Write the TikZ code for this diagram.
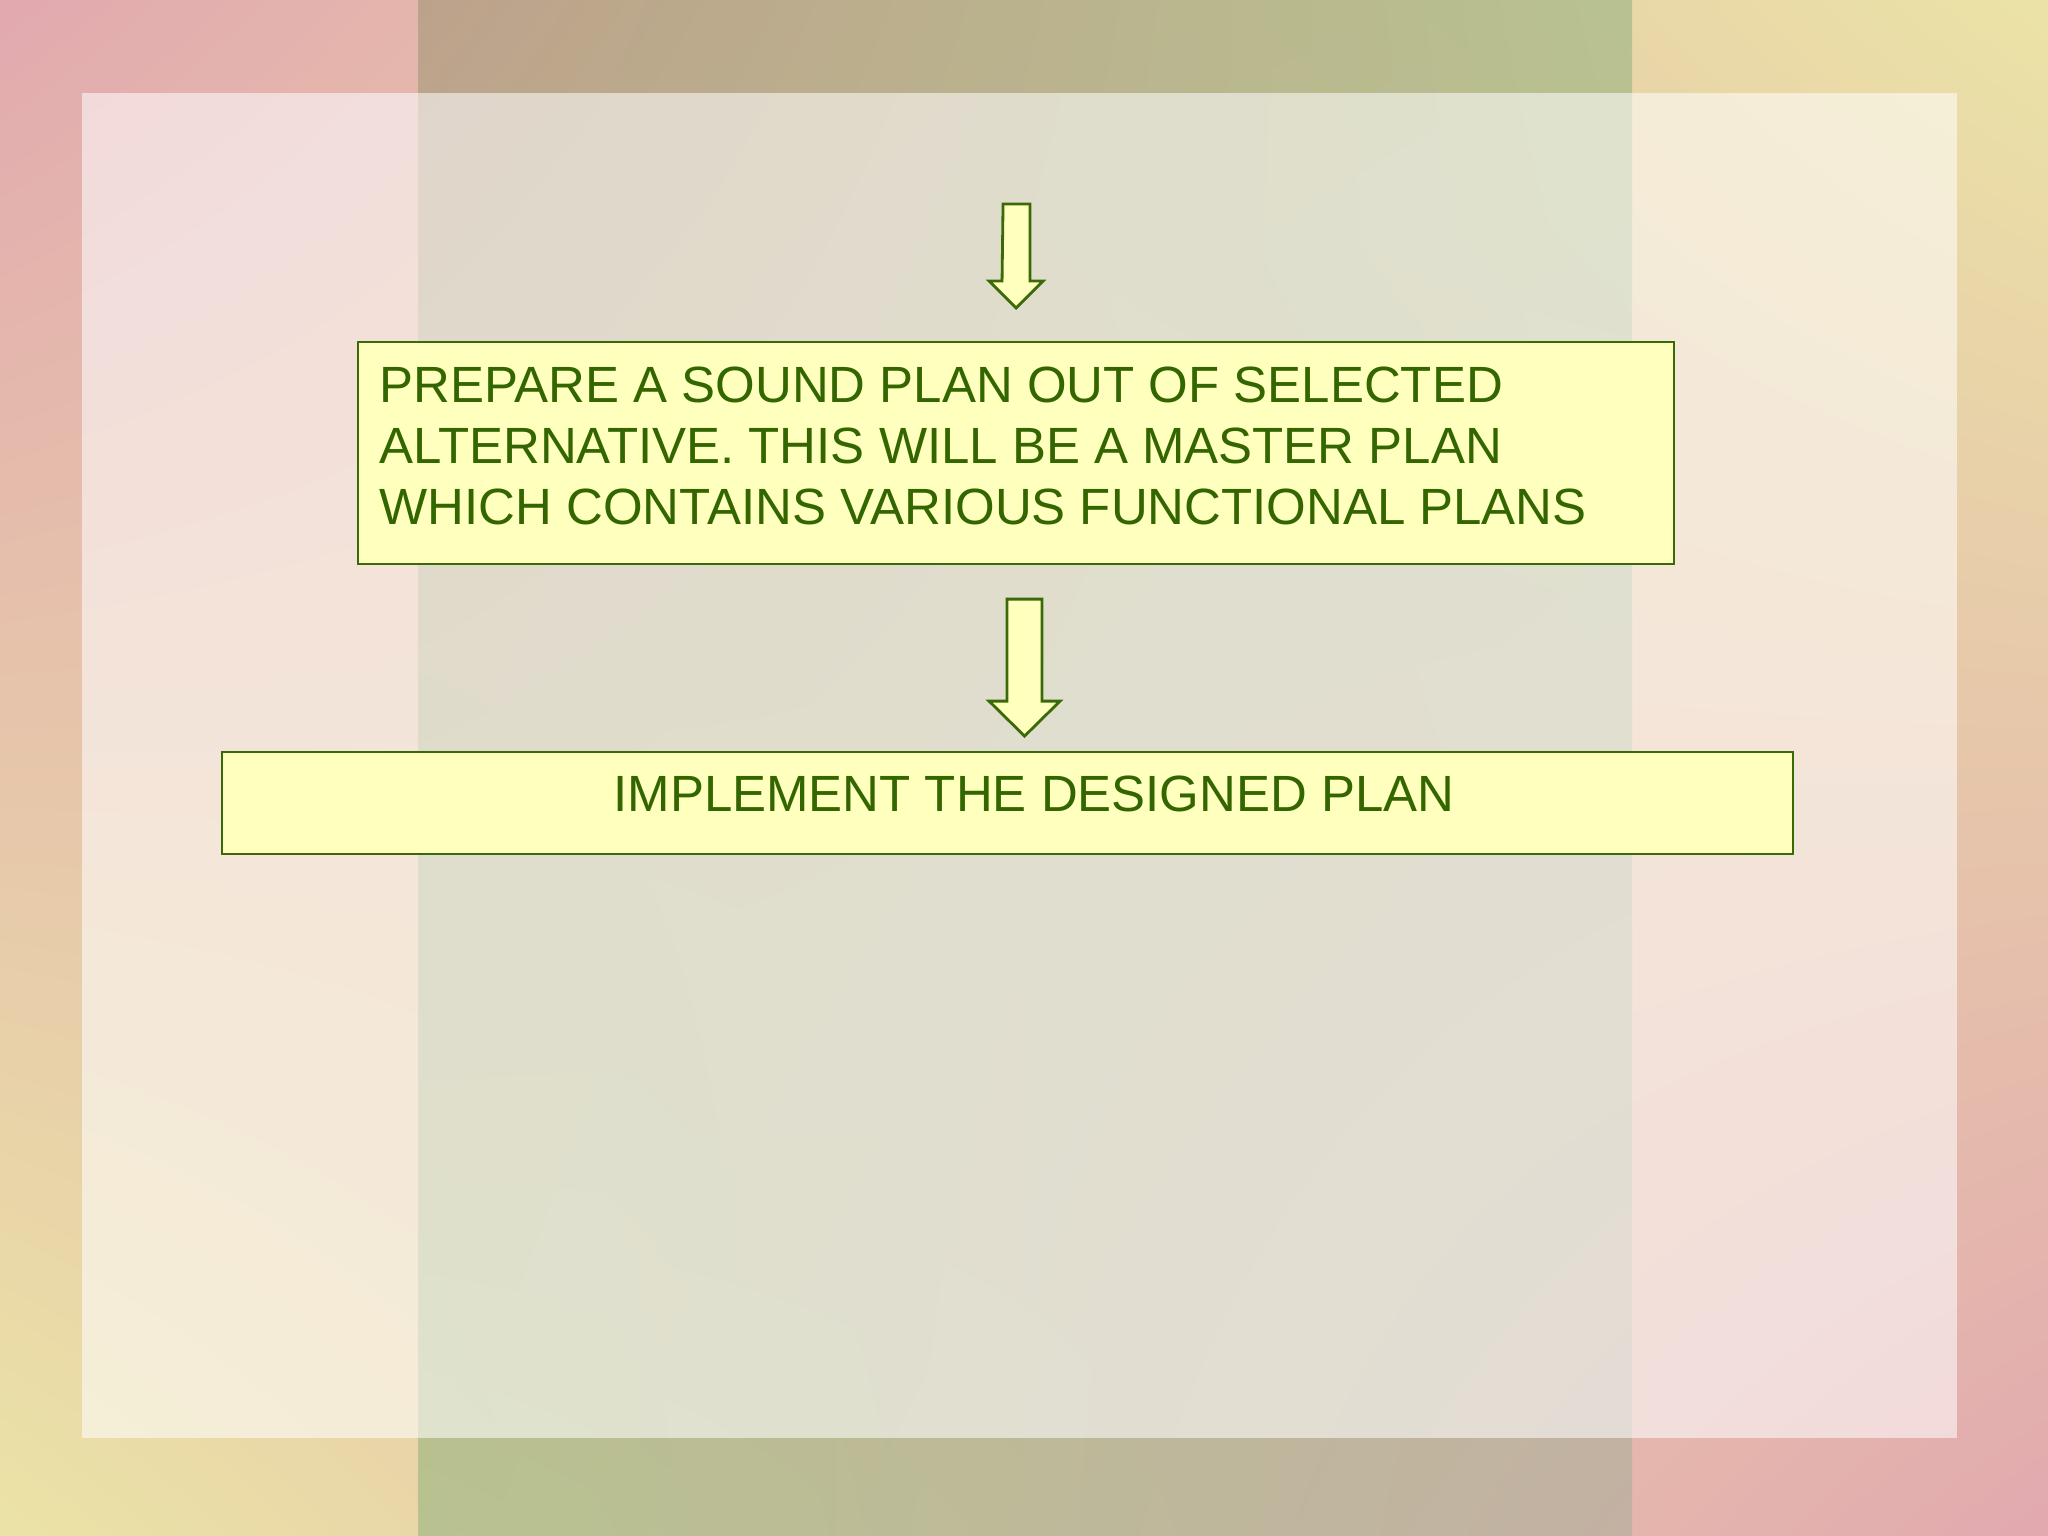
\documentclass[tikz,border=0pt]{standalone}
\usepackage{fontspec}
\setmainfont{Liberation Sans}
\usetikzlibrary{positioning,calc,shadings}

\definecolor{bgpink}{HTML}{E2A9AF}
\definecolor{bgyellow}{HTML}{EBE3A6}
\definecolor{bandtan}{HTML}{B09C80}
\definecolor{bandgreen}{HTML}{A8BC88}
\definecolor{bandgrey}{HTML}{B8B0A0}
\definecolor{boxyellow}{HTML}{FFFFBE}
\definecolor{boxgreen}{HTML}{3A6A08}
\definecolor{textgreen}{HTML}{336600}

\begin{document}
\begin{tikzpicture}[
		planbox/.style={draw=boxgreen, fill=boxyellow, line width=0.6pt, inner sep=0pt, anchor=north west},
		plantext/.style={text=textgreen, font=\fontsize{14.5}{17.4}\selectfont, inner sep=0pt, align=left},
		blockarrow/.style={draw=boxgreen, fill=boxyellow, line width=0.8pt, line join=miter}
	]
			\useasboundingbox (0,0) rectangle (20.48,-15.36);
			
			% background of the slide
			\shade[upper left=bgpink, upper right=bgyellow, lower left=bgyellow, lower right=bgpink] (0,0) rectangle (20.48,-15.36);
			\shade[upper left=bandtan, upper right=bandgreen, lower left=bandgreen, lower right=bandgrey, opacity=0.75] (4.18,0) rectangle (16.32,-15.36);
			\fill[white, opacity=0.55] (0.82,-0.93) rectangle (19.57,-14.38);
			
			% boxes
			\node[planbox, minimum width=13.16cm, minimum height=2.22cm] (plan) at (3.57,-3.41) {};
			\node[planbox, minimum width=15.71cm, minimum height=1.02cm] (implement) at (2.21,-7.51) {};
			
			\node[plantext, below right=0.25cm and 0.22cm of plan.north west] (plantxt) {PREPARE A SOUND PLAN OUT OF SELECTED\\ALTERNATIVE. THIS WILL BE A MASTER PLAN\\WHICH CONTAINS VARIOUS FUNCTIONAL PLANS};
			\node[plantext, anchor=base] (implementtxt) at (10.34,-8.11) {IMPLEMENT THE DESIGNED PLAN};
			
			% arrow into the plan box
			\draw[blockarrow] ($(plan.north)+(-0.13,1.37)$) -- ++(0.27,0) -- ++(0,-0.77) -- ++(0.13,0) -- ++(-0.27,-0.27) -- ++(-0.27,0.27) -- ++(0.13,0) -- cycle;
			
			% arrow from plan to implement
			\draw[blockarrow] ($(plan.south)+(-0.09,-0.34)$) -- ++(0.35,0) -- ++(0,-1.02) -- ++(0.18,0) -- ++(-0.355,-0.35) -- ++(-0.355,0.35) -- ++(0.18,0) -- cycle;
			
		\end{tikzpicture}
\end{document}
